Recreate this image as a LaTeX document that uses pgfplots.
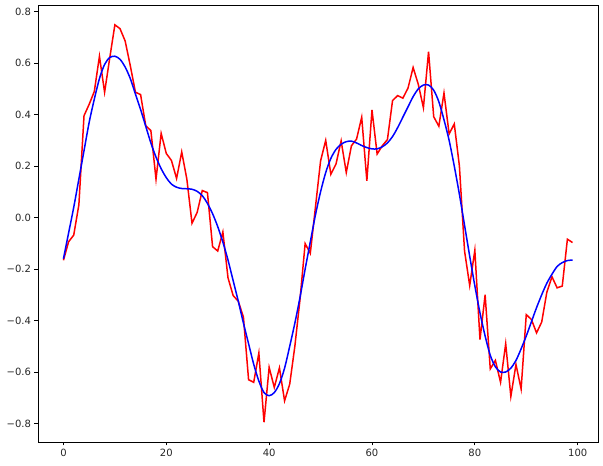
\documentclass[border=0pt]{standalone}
\usepackage{pgfplots}
\pgfplotsset{compat=1.18}
\usepackage{fontspec}
\setmainfont{DejaVu Sans}
\begin{document}
\begin{tikzpicture}[x=1pt,y=1pt]
\path (-38,-24) rectangle (565,442);
\begin{axis}[
  at={(0,0)}, anchor=south west,
  scale only axis, width=560pt, height=437pt,
  xmin=-4.95, xmax=103.95, ymin=-0.872, ymax=0.826,
  xtick={0,20,40,60,80,100},
  ytick={-0.8,-0.6,-0.4,-0.2,0,0.2,0.4,0.6,0.8},
  yticklabels={−0.8,−0.6,−0.4,−0.2,0.0,0.2,0.4,0.6,0.8},
  xticklabels={0,20,40,60,80,100},
  tick align=outside, tick pos=left,
  major tick length=3.5pt,
  every tick/.style={black, line width=0.8pt},
  axis line style={line width=0.8pt},
  tick label style={font=\fontsize{10}{12}\selectfont, text=black!85},
  /pgf/number format/assume math mode=true,
  xticklabel style={yshift=-0.5pt},
  clip=true,
]
\addplot[red, line width=1.5pt] coordinates {
(0,-0.166)(1,-0.094)(2,-0.068)(3,0.05)(4,0.396)(5,0.44)(6,0.49)(7,0.627)(8,0.487)(9,0.62)
(10,0.749)(11,0.734)(12,0.686)(13,0.59)(14,0.487)(15,0.478)(16,0.357)(17,0.338)(18,0.149)(19,0.327)
(20,0.249)(21,0.222)(22,0.152)(23,0.255)(24,0.149)(25,-0.022)(26,0.02)(27,0.105)(28,0.097)(29,-0.113)
(30,-0.13)(31,-0.056)(32,-0.234)(33,-0.303)(34,-0.325)(35,-0.387)(36,-0.63)(37,-0.64)(38,-0.526)(39,-0.795)
(40,-0.582)(41,-0.66)(42,-0.584)(43,-0.712)(44,-0.647)(45,-0.5)(46,-0.318)(47,-0.101)(48,-0.139)(49,0.04)
(50,0.22)(51,0.3)(52,0.168)(53,0.208)(54,0.298)(55,0.175)(56,0.279)(57,0.305)(58,0.39)(59,0.143)
(60,0.418)(61,0.247)(62,0.279)(63,0.303)(64,0.455)(65,0.474)(66,0.464)(67,0.503)(68,0.583)(69,0.518)
(70,0.427)(71,0.645)(72,0.392)(73,0.355)(74,0.484)(75,0.325)(76,0.364)(77,0.2)(78,-0.13)(79,-0.264)
(80,-0.127)(81,-0.474)(82,-0.3)(83,-0.588)(84,-0.555)(85,-0.64)(86,-0.49)(87,-0.695)(88,-0.571)(89,-0.666)
(90,-0.377)(91,-0.396)(92,-0.448)(93,-0.406)(94,-0.29)(95,-0.23)(96,-0.273)(97,-0.266)(98,-0.084)(99,-0.097)
};
\addplot[blue, line width=1.5pt, smooth] coordinates {
(0,-0.16)(1,-0.06)(2,0.04)(3,0.15)(4,0.26)(5,0.37)(6,0.46)(7,0.54)(8,0.595)(9,0.622)
(10,0.627)(11,0.615)(12,0.585)(13,0.54)(14,0.48)(15,0.42)(16,0.355)(17,0.29)(18,0.235)(19,0.19)
(20,0.155)(21,0.13)(22,0.118)(23,0.113)(24,0.112)(25,0.11)(26,0.102)(27,0.085)(28,0.055)(29,0.015)
(30,-0.035)(31,-0.095)(32,-0.165)(33,-0.245)(34,-0.325)(35,-0.41)(36,-0.49)(37,-0.57)(38,-0.635)(39,-0.68)
(40,-0.692)(41,-0.68)(42,-0.645)(43,-0.585)(44,-0.5)(45,-0.41)(46,-0.31)(47,-0.2)(48,-0.095)(49,0.01)
(50,0.1)(51,0.175)(52,0.23)(53,0.265)(54,0.285)(55,0.295)(56,0.297)(57,0.29)(58,0.28)(59,0.272)
(60,0.267)(61,0.267)(62,0.275)(63,0.29)(64,0.315)(65,0.35)(66,0.39)(67,0.43)(68,0.47)(69,0.5)
(70,0.515)(71,0.515)(72,0.495)(73,0.45)(74,0.38)(75,0.3)(76,0.2)(77,0.09)(78,-0.03)(79,-0.15)
(80,-0.265)(81,-0.37)(82,-0.46)(83,-0.535)(84,-0.58)(85,-0.6)(86,-0.6)(87,-0.585)(88,-0.555)(89,-0.51)
(90,-0.46)(91,-0.405)(92,-0.35)(93,-0.3)(94,-0.255)(95,-0.22)(96,-0.19)(97,-0.175)(98,-0.167)(99,-0.165)
};
\end{axis}
\end{tikzpicture}
\end{document}
